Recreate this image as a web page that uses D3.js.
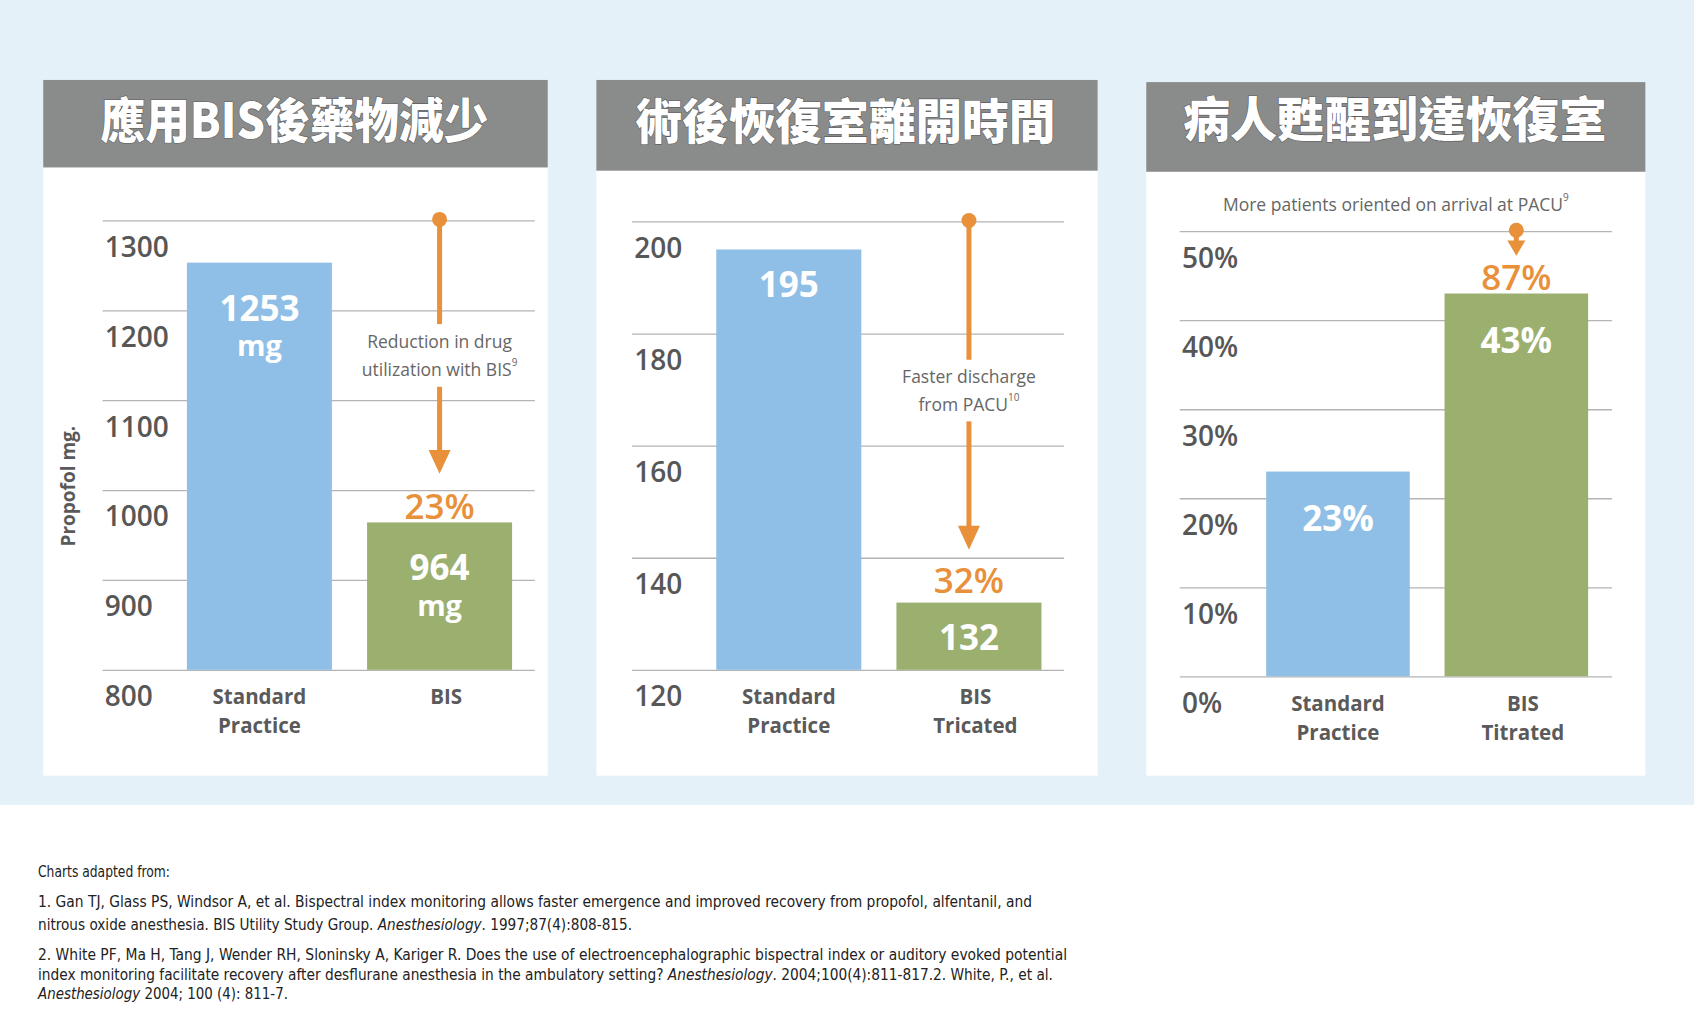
<!DOCTYPE html>
<html><head><meta charset="utf-8">
<script src="https://cdn.jsdelivr.net/npm/d3@7"></script>
<style>body{margin:0;background:#fff;} svg{display:block}</style>
</head><body><svg id="c" width="1694" height="1026"></svg>
<script>
// ---------- data ----------
const titles = ["應用BIS後藥物減少", "術後恢復室離開時間", "病人甦醒到達恢復室"];
const categories1 = [["Standard", "Practice"], ["BIS"]];
const categories2 = [["Standard", "Practice"], ["BIS", "Tricated"]];
const categories3 = [["Standard", "Practice"], ["BIS", "Titrated"]];
const values1 = [1253, 964];
const values2 = [195, 132];
const values3 = [23, 43];
const valueLabels1 = [["1253", "mg"], ["964", "mg"]];
const valueLabels2 = [["195"], ["132"]];
const valueLabels3 = [["23%"], ["43%"]];
const ticks1 = [800, 900, 1000, 1100, 1200, 1300];
const ticks2 = [120, 140, 160, 180, 200];
const ticks3 = [0, 10, 20, 30, 40, 50];
const deltaLabels = ["23%", "32%", "87%"];
const notes1 = [["Reduction in drug", ""], ["utilization with BIS", "9"]];
const notes2 = [["Faster discharge", ""], ["from PACU", "10"]];
const subtitle3 = ["More patients oriented on arrival at PACU", "9"];
const yTitle1 = "Propofol mg.";
const footerLines = [
  [["Charts adapted from:", 0]],
  [["1. Gan TJ, Glass PS, Windsor A, et al. Bispectral index monitoring allows faster emergence and improved recovery from propofol, alfentanil, and", 0]],
  [["nitrous oxide anesthesia. BIS Utility Study Group. ", 0], ["Anesthesiology", 1], [". 1997;87(4):808-815.", 0]],
  [["2. White PF, Ma H, Tang J, Wender RH, Sloninsky A, Kariger R. Does the use of electroencephalographic bispectral index or auditory evoked potential", 0]],
  [["index monitoring facilitate recovery after desflurane anesthesia in the ambulatory setting? ", 0], ["Anesthesiology", 1], [". 2004;100(4):811-817.2. White, P., et al.", 0]],
  [["Anesthesiology", 1], [" 2004; 100 (4): 811-7.", 0]]
];

// ---------- layout ----------
const K = 1694 / 1568;
const S = v => v * K;
const C = {
  bg: "#e4f1f8", head: "#8a8b8b", blue: "#8fbfe6", green: "#9bb06f",
  orange: "#e8903a", grid: "#b4b4b4", tick: "#575757", cat: "#5a5a5a", note: "#666"
};
const FONT = "'Open Sans', 'Noto Sans', sans-serif";
const CJK = "'Noto Sans CJK TC', 'Noto Sans CJK SC', sans-serif";

const svg = d3.select("#c");
svg.append("rect").attr("width", 1694).attr("height", S(745)).attr("fill", C.bg);

const panels = [
  {title: titles[0], cats: categories1, vals: values1, vlab: valueLabels1, ticks: ticks1, fmt: d => d,
   box: [40, 74, 507, 718], head: 155, titleX: 272.5, titleY: 112, titleLen: 359,
   gx: [95, 495], gy: [620, 204], bx: [173, 474], lab: 97, valOff: 42, delta: deltaLabels[0], deltaOff: 16,
   note: notes1, noteY: [316, 342], gapY: [300, 358], tipOff: 45, headLen: 22},
  {title: titles[1], cats: categories2, vals: values2, vlab: valueLabels2, ticks: ticks2, fmt: d => d,
   box: [552, 74, 1016, 718], head: 158, titleX: 782.5, titleY: 113, titleLen: 389,
   gx: [585, 985], gy: [620, 205], bx: [663, 964], lab: 587, valOff: 32, delta: deltaLabels[1], deltaOff: 21,
   note: notes2, noteY: [348, 374], gapY: [333, 390], tipOff: 49, headLen: 22},
  {title: titles[2], cats: categories3, vals: values3, vlab: valueLabels3, ticks: ticks3, fmt: d => d + "%",
   box: [1061, 76, 1523, 718], head: 159, titleX: 1291, titleY: 111, titleLen: 392,
   gx: [1092, 1492], gy: [626, 214], bx: [1172, 1470], lab: 1094, valOff: 43, delta: deltaLabels[2], deltaOff: 16,
   note: null, tipOff: 35, headLen: 14, subtitle: subtitle3}
];

panels.forEach((p, pi) => {
  const g = svg.append("g");
  const [x0, y0, x1, y1] = p.box;
  g.append("rect").attr("x", S(x0)).attr("y", S(y0)).attr("width", S(x1 - x0)).attr("height", S(y1 - y0)).attr("fill", "#fff");
  g.append("rect").attr("x", S(x0)).attr("y", S(y0)).attr("width", S(x1 - x0)).attr("height", S(p.head - y0)).attr("fill", C.head);
  g.append("text").attr("x", S(p.titleX)).attr("y", S(p.titleY)).attr("dy", "0.36em")
    .attr("text-anchor", "middle").attr("font-family", CJK).attr("font-weight", 900)
    .attr("font-size", 48).attr("fill", "#fff")
    .attr("stroke", "#5e5e5e").attr("stroke-width", 1.2).attr("paint-order", "stroke")
    .attr("textLength", S(p.titleLen)).attr("lengthAdjust", "spacingAndGlyphs")
    .text(p.title);

  const y = d3.scaleLinear().domain(d3.extent(p.ticks)).range([S(p.gy[0]), S(p.gy[1])]);
  const keys = p.cats.map(c => c.join(" "));
  const x = d3.scaleBand().domain(keys).range([S(p.bx[0]), S(p.bx[1])]).paddingInner(0.195).paddingOuter(0);
  const gw = S(p.gx[1] - p.gx[0]);

  // axis + gridlines
  const ax = g.append("g").attr("transform", `translate(${S(p.gx[0])},0)`)
    .call(d3.axisRight(y).tickValues(p.ticks).tickSize(gw).tickFormat(p.fmt));
  ax.select(".domain").remove();
  ax.selectAll(".tick line").attr("stroke", C.grid).attr("stroke-width", 1.3);
  ax.selectAll(".tick text").attr("x", S(p.lab - p.gx[0])).attr("dy", S(23)).attr("dominant-baseline", "central")
    .attr("font-family", FONT).attr("font-weight", 600).attr("font-size", 28).attr("fill", C.tick);

  // bars
  g.selectAll(".bar").data(p.vals).enter().append("rect")
    .attr("x", (d, i) => x(keys[i])).attr("width", x.bandwidth())
    .attr("y", d => y(d)).attr("height", d => y(p.ticks[0]) - y(d))
    .attr("fill", (d, i) => i === 0 ? C.blue : C.green);

  // value labels (one text element per bar, lines as tspans)
  p.vals.forEach((v, i) => {
    const cx = x(keys[i]) + x.bandwidth() / 2;
    const t = g.append("text").attr("x", cx).attr("y", y(v) + S(p.valOff)).attr("dy", "0.36em")
      .attr("text-anchor", "middle").attr("font-family", FONT).attr("font-weight", 700)
      .attr("font-size", 35).attr("fill", "#fff");
    p.vlab[i].forEach((s, j) => {
      const ts = t.append("tspan").text(s);
      if (j > 0) ts.attr("font-size", 29).attr("x", cx).attr("dy", S(33));
    });
  });

  // category labels
  p.cats.forEach((lines, i) => {
    const cx = x(keys[i]) + x.bandwidth() / 2 + (i === 1 ? S(6) : 0);
    const t = g.append("text").attr("x", cx).attr("y", y(p.ticks[0]) + S(25)).attr("dy", "0.36em")
      .attr("text-anchor", "middle").attr("font-family", FONT).attr("font-weight", 700)
      .attr("font-size", 20.5).attr("fill", C.cat);
    lines.forEach((s, j) => {
      const ts = t.append("tspan").text(s);
      if (j > 0) ts.attr("x", cx).attr("dy", S(27));
    });
  });

  // arrow annotation
  const ix = x(keys[1]) + x.bandwidth() / 2;
  const topY = y(p.ticks[p.ticks.length - 1]);
  const tip = y(p.vals[1]) - S(p.tipOff);
  const headTop = tip - S(p.headLen);
  const ac = g.append("g").attr("fill", C.orange).attr("stroke", C.orange);
  if (p.note) {
    ac.append("line").attr("x1", ix).attr("x2", ix).attr("y1", topY).attr("y2", S(p.gapY[0])).attr("stroke-width", 5);
    ac.append("line").attr("x1", ix).attr("x2", ix).attr("y1", S(p.gapY[1])).attr("y2", headTop + 1).attr("stroke-width", 5);
    p.note.forEach((n, j) => {
      const t = g.append("text").attr("x", ix).attr("y", S(p.noteY[j])).attr("dominant-baseline", "central")
        .attr("text-anchor", "middle").attr("font-family", FONT).attr("font-size", 17.5).attr("fill", C.note);
      t.append("tspan").text(n[0]);
      if (n[1]) t.append("tspan").attr("font-size", 10).attr("dy", -7).text(n[1]);
    });
  } else {
    ac.append("line").attr("x1", ix).attr("x2", ix).attr("y1", topY).attr("y2", headTop + 1).attr("stroke-width", 5);
  }
  ac.append("circle").attr("cx", ix).attr("cy", topY - 1).attr("r", 7.5).attr("stroke", "none");
  const hw = p.note ? 11 : 9;
  ac.append("path").attr("stroke", "none")
    .attr("d", `M${ix - hw},${headTop} L${ix + hw},${headTop} L${ix},${tip} Z`);
  g.append("text").attr("x", ix).attr("y", y(p.vals[1]) - S(p.deltaOff)).attr("dominant-baseline", "central")
    .attr("text-anchor", "middle").attr("font-family", FONT).attr("font-weight", 600).attr("font-size", 35)
    .attr("fill", C.orange).text(p.delta);

  if (p.subtitle) {
    const t = g.append("text").attr("x", S(1292)).attr("y", S(189)).attr("dominant-baseline", "central")
      .attr("text-anchor", "middle").attr("font-family", FONT).attr("font-size", 17.5).attr("fill", C.note);
    t.append("tspan").text(p.subtitle[0]);
    t.append("tspan").attr("font-size", 10).attr("dy", -7).text(p.subtitle[1]);
  }
  if (pi === 0) {
    g.append("text").attr("transform", `translate(${S(63)},${S(450)}) rotate(-90)`)
      .attr("text-anchor", "middle").attr("dominant-baseline", "central")
      .attr("font-family", FONT).attr("font-weight", 700).attr("font-size", 19).attr("fill", C.cat)
      .text(yTitle1);
  }
});

// footer
const fy = [877, 907, 930, 960, 980, 999];
const fLen = [132, 994, 594, 1029, 1015, 250];
footerLines.forEach((parts, i) => {
  const t = svg.append("text").attr("x", 38).attr("y", fy[i])
    .attr("font-family", "'Liberation Sans Narrow', 'DejaVu Sans Condensed', sans-serif")
    .attr("font-size", 15).attr("fill", "#222")
    .attr("textLength", fLen[i]).attr("lengthAdjust", "spacingAndGlyphs");
  parts.forEach(pt => t.append("tspan").attr("font-style", pt[1] ? "italic" : "normal").text(pt[0]));
});
</script>
</body></html>
